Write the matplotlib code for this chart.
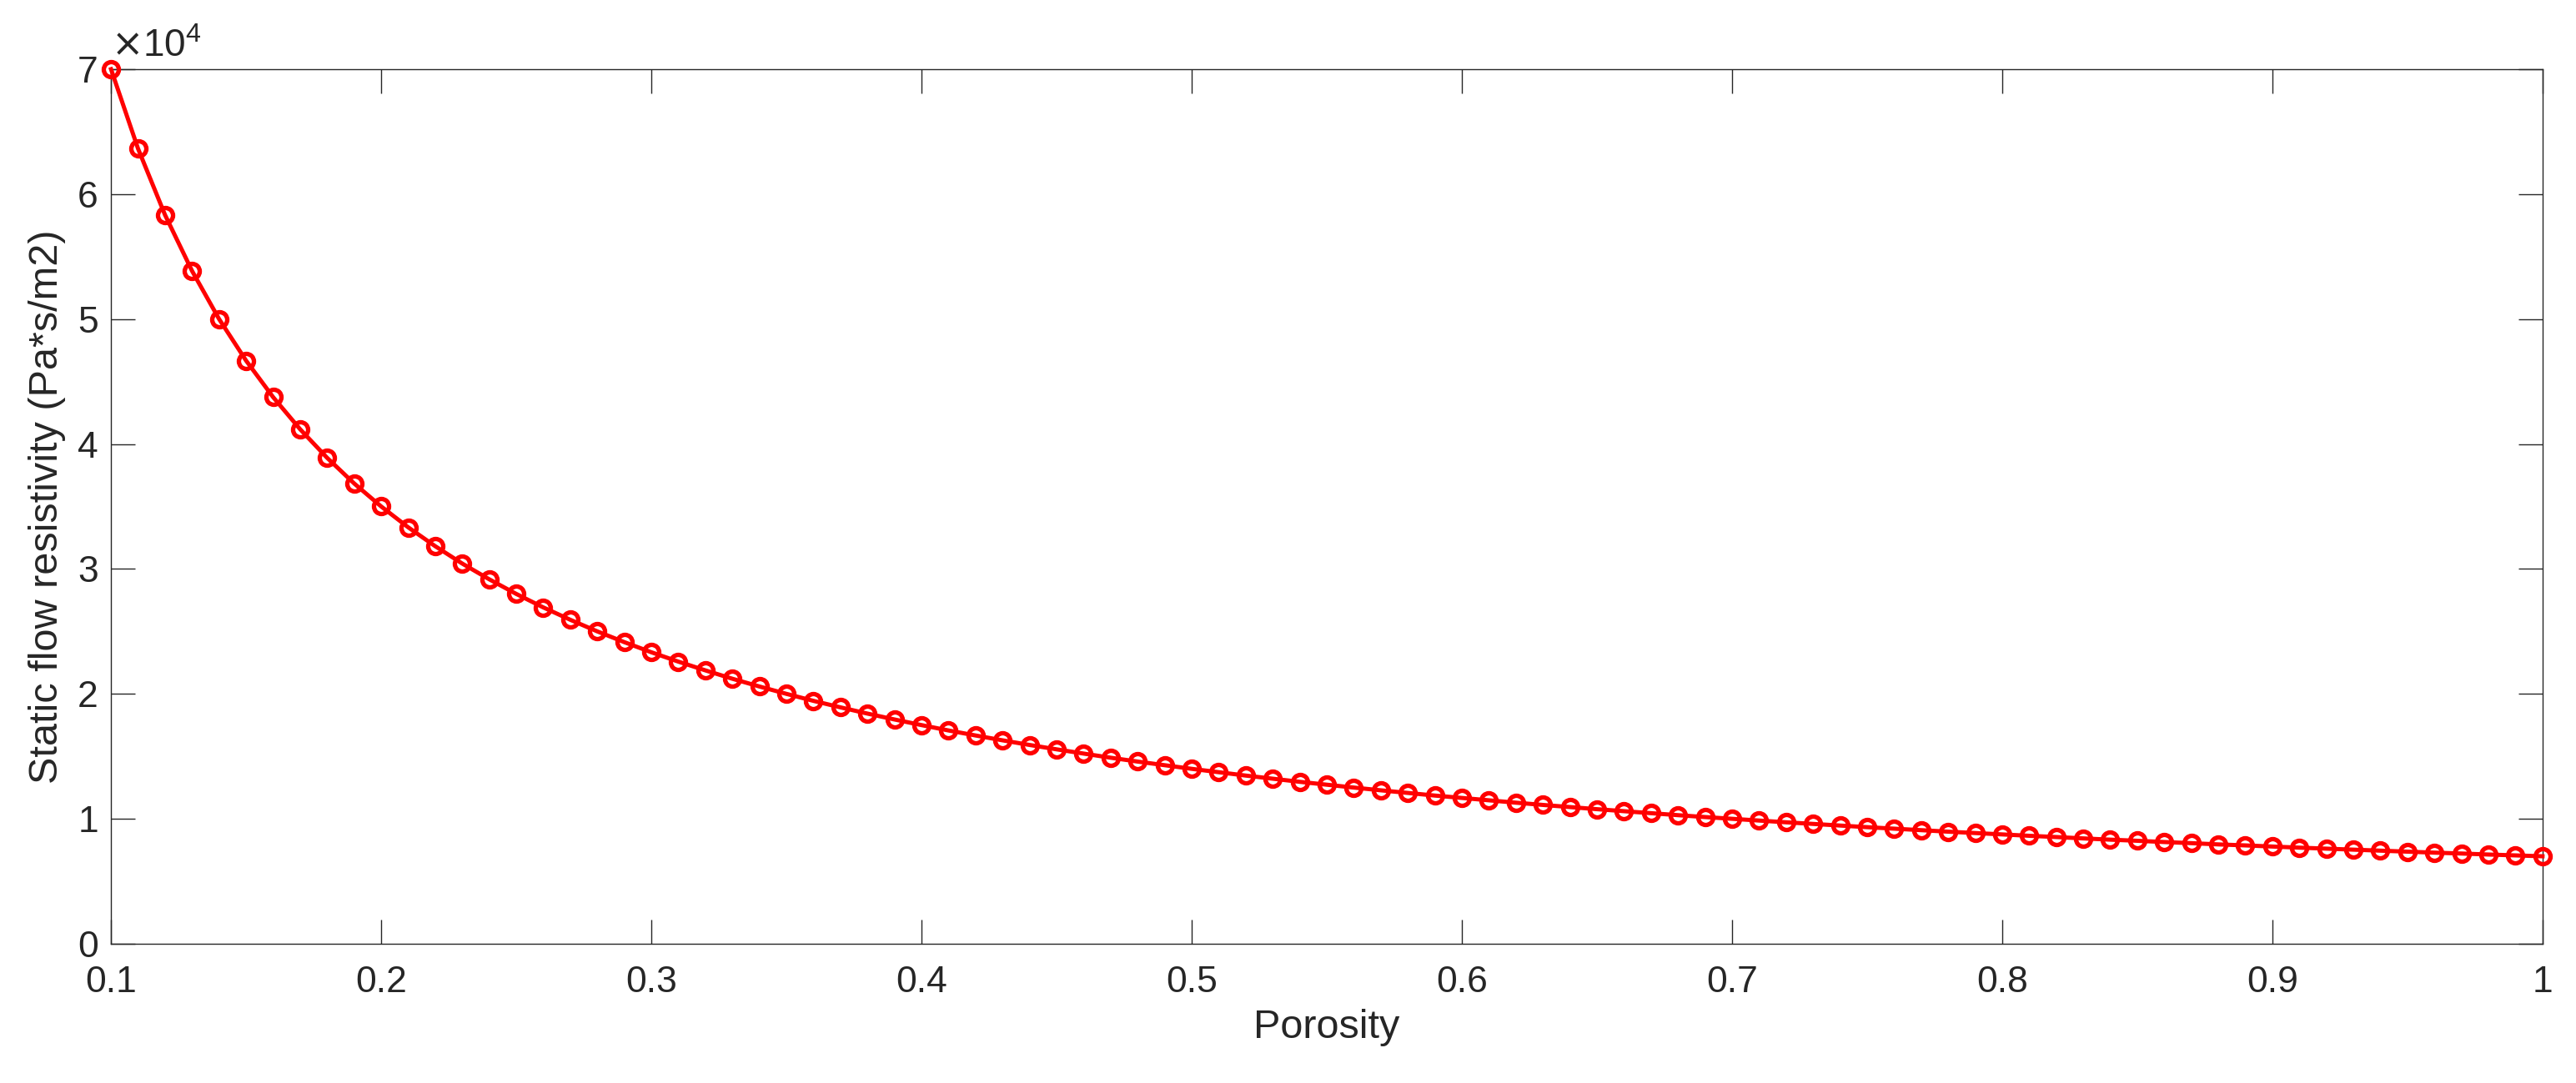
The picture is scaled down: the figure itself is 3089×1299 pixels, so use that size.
import matplotlib.pyplot as plt
from matplotlib.ticker import FuncFormatter

# porosity values (x) and static flow resistivity (Pa*s/m2)
porosity = [0.10, 0.11, 0.12, 0.13, 0.14, 0.15, 0.16, 0.17, 0.18, 0.19,
            0.20, 0.21, 0.22, 0.23, 0.24, 0.25, 0.26, 0.27, 0.28, 0.29,
            0.30, 0.31, 0.32, 0.33, 0.34, 0.35, 0.36, 0.37, 0.38, 0.39,
            0.40, 0.41, 0.42, 0.43, 0.44, 0.45, 0.46, 0.47, 0.48, 0.49,
            0.50, 0.51, 0.52, 0.53, 0.54, 0.55, 0.56, 0.57, 0.58, 0.59,
            0.60, 0.61, 0.62, 0.63, 0.64, 0.65, 0.66, 0.67, 0.68, 0.69,
            0.70, 0.71, 0.72, 0.73, 0.74, 0.75, 0.76, 0.77, 0.78, 0.79,
            0.80, 0.81, 0.82, 0.83, 0.84, 0.85, 0.86, 0.87, 0.88, 0.89,
            0.90, 0.91, 0.92, 0.93, 0.94, 0.95, 0.96, 0.97, 0.98, 0.99,
            1.00]
resistivity = [70000, 63640, 58330, 53850, 50000, 46670, 43750, 41180, 38890, 36840,
               35000, 33330, 31820, 30430, 29170, 28000, 26920, 25930, 25000, 24140,
               23330, 22580, 21880, 21210, 20590, 20000, 19440, 18920, 18420, 17950,
               17500, 17070, 16670, 16280, 15910, 15560, 15220, 14890, 14580, 14290,
               14000, 13730, 13460, 13210, 12960, 12730, 12500, 12280, 12070, 11860,
               11670, 11480, 11290, 11110, 10940, 10770, 10610, 10450, 10290, 10140,
               10000, 9860, 9720, 9590, 9460, 9330, 9210, 9090, 8970, 8860,
               8750, 8640, 8540, 8430, 8330, 8240, 8140, 8050, 7950, 7870,
               7780, 7690, 7610, 7530, 7450, 7370, 7290, 7220, 7140, 7070,
               7000]

x_ticks = [0.1, 0.2, 0.3, 0.4, 0.5, 0.6, 0.7, 0.8, 0.9, 1.0]
y_ticks = [0, 10000, 20000, 30000, 40000, 50000, 60000, 70000]

plt.rcParams['font.family'] = ['Liberation Sans', 'DejaVu Sans']

fig = plt.figure(figsize=(30.89, 12.99), dpi=100)
ax = fig.add_axes([0.0431, 0.1286, 0.9439, 0.8075])

ax.plot(porosity, resistivity, color='#ff0000', linewidth=3.6,
        marker='o', markersize=13, markerfacecolor='none',
        markeredgewidth=3.8, clip_on=False, zorder=3)

ax.set_xlim(0.1, 1.0)
ax.set_ylim(0, 70000)
ax.set_xticks(x_ticks)
ax.set_yticks(y_ticks)
ax.xaxis.set_major_formatter(FuncFormatter(lambda v, p: f"{v:g}"))
ax.yaxis.set_major_formatter(FuncFormatter(lambda v, p: f"{v / 1e4:g}"))

ax.tick_params(direction='in', length=21, width=1.0, colors='#262626',
               labelsize=32, top=True, right=True)
ax.tick_params(axis='x', pad=19)
ax.tick_params(axis='y', pad=11)
for s in ax.spines.values():
    s.set_color('#262626')
    s.set_linewidth(1.0)

ax.text(0.0, 1.005, r'$\times\mathregular{10^{4}}$', transform=ax.transAxes,
        fontsize=33, color='#262626', ha='left', va='bottom')

ax.set_xlabel('Porosity', fontsize=35, color='#262626', labelpad=8)
ax.set_ylabel('Static flow resistivity (Pa*s/m2)', fontsize=35,
              color='#262626', labelpad=10)

fig.savefig('out.png', dpi=100)
